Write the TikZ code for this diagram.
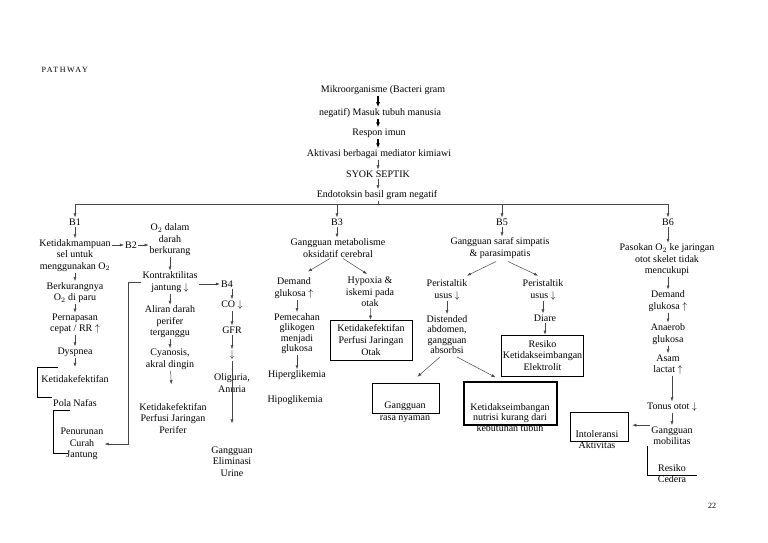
\documentclass[tikz,border=0pt]{standalone}
\usepackage{fontspec}
\setmainfont{Liberation Serif}
\usetikzlibrary{calc, arrows.meta}

\begin{document}
\begin{tikzpicture}[
    x=1pt, y=-1pt,
    >={Latex[length=4pt, width=3pt]},
    font=\fontsize{10}{11.5}\selectfont,
]

\definecolor{line_color}{RGB}{70,70,70}

\tikzstyle{txt} = [align=center, inner sep=1pt]
\tikzstyle{tight} = [font=\fontsize{10}{10.5}\selectfont]
\tikzstyle{sqr} = [rectangle, draw=black, line width=.6pt]
\tikzstyle{arr} = [->, line width=.5pt, draw=line_color]
\tikzstyle{thick_arr} = [-{Latex[length=5pt, width=4pt]}, line width=1.2pt, draw=black]
\tikzstyle{brk} = [line width=.9pt, draw=black]

\useasboundingbox (0,0) rectangle (768,543);

\node (pathway) [anchor=west, font=\fontsize{8}{9}\selectfont\addfontfeature{LetterSpace=20}] at (38,70) {PATHWAY};

% alur utama
\node (mikro) [txt] at (383,90) {Mikroorganisme (Bacteri gram};
\node (negatif) [txt] at (380,113) {negatif) Masuk tubuh manusia};
\node (respon) [txt] at (379,133) {Respon imun};
\node (aktivasi) [txt] at (379,154) {Aktivasi berbagai mediator kimiawi};
\node (syok) [txt] at (378,174) {SYOK SEPTIK};
\node (endo) [txt] at (377,195) {Endotoksin basil gram negatif};

\draw[thick_arr] (mikro.south -| syok) -- (negatif.north -| syok);
\draw[thick_arr] (negatif.south -| syok) -- (respon.north -| syok);
\draw[thick_arr] (respon.south -| syok) -- (aktivasi.north -| syok);
\draw[arr] (aktivasi.south -| syok) -- (syok.north);
\draw[arr] (syok.south) -- (syok.south |- endo.north);

\node (b1) [txt] at (75,222) {B1};
\node (b3) [txt] at (337,222) {B3};
\node (b5) [txt] at (502,222) {B5};
\node (b6) [txt] at (668,222) {B6};

\coordinate (bus) at (378,204);
\draw[line width=.5pt, line_color] (endo.south -| bus) -- (bus);
\draw[line width=.5pt, line_color] (b1 |- bus) -- (b6 |- bus);
\draw[arr] (b1 |- bus) -- (b1);
\draw[arr] (b3 |- bus) -- (b3);
\draw[arr] (b5 |- bus) -- (b5);
\draw[arr] (b6 |- bus) -- (b6);

% B1
\node (mampu) [txt] at (75,255.5) {Ketidakmampuan\\sel untuk\\menggunakan O$_2$};
\node (berkurang) [txt] at (75,292.5) {Berkurangnya\\O$_2$ di paru};
\node (napas) [txt] at (75,324) {Pernapasan\\cepat / RR $\uparrow$};
\node (dyspnea) [txt] at (75,352) {Dyspnea};
\node (ketpola) [txt, minimum height=24] at (75,379) {Ketidakefektifan};
\node (pola) [txt] at (75,403) {Pola Nafas};
\node (curah) [txt] at (82,444) {Penurunan\\Curah\\Jantung};

\draw[arr] (b1) -- (mampu);
\draw[arr] (mampu) -- (berkurang);
\draw[arr] (berkurang) -- (napas);
\draw[arr] (napas) -- (dyspnea);
\draw[arr] (dyspnea) -- (ketpola);
\draw[brk] (58,367) -- (37,367) -- (37,397) -- (52,397);
\draw[brk] (70,410) -- (53,410) -- (53,453) -- (68,453);

% B2
\node (b2) [txt] at (131,245) {B2};
\node (o2) [txt] at (170,240) {O$_2$ dalam\\darah\\berkurang};
\node (kontrak) [txt] at (170,282) {Kontraktilitas\\jantung $\downarrow$};
\node (aliran) [txt] at (170,322) {Aliran darah\\perifer\\terganggu};
\node (cyanosis) [txt] at (170,359.5) {Cyanosis,\\akral dingin};
\node (perifer) [txt] at (173,418.5) {Ketidakefektifan\\Perfusi Jaringan\\Perifer};

\draw[arr] (b2 -| mampu.east) -- (b2);
\draw[arr] (b2) -- (b2 -| o2.west);
\draw[arr] (o2) -- (kontrak);
\draw[arr] (kontrak) -- (aliran);
\draw[arr] (aliran) -- (cyanosis);
\draw[arr, shorten >=18pt] (cyanosis) -- (perifer);
\coordinate (kbend) at (128,282);
\draw[arr] (kontrak.west) -- (kbend) -- (kbend |- curah) -- (curah.east);

% B4
\node (b4) [txt] at (227,284) {B4};
\node (co) [txt] at (232,305) {CO $\downarrow$};
\node (gfr) [txt] at (232,330) {GFR};
\node (gfrturun) [txt] at (232,355) {$\downarrow$};
\node (oliguria) [txt] at (232,383) {Oliguria,\\Anuria};
\node (eliminasi) [txt] at (232,461.5) {Gangguan\\Eliminasi\\Urine};

\draw[arr] (kontrak.east |- b4) -- (b4);
\draw[arr] (b4.south -| co) -- (co);
\draw[arr] (co) -- (gfr);
\draw[arr] (gfr) -- (gfrturun);
\draw[arr, shorten >=22pt] (gfrturun) -- (eliminasi);

% B3
\node (metab) [txt] at (338,248) {Gangguan metabolisme\\oksidatif cerebral};
\node (demand3) [txt] at (294,288) {Demand\\glukosa $\uparrow$};
\node (hypoxia) [txt] at (370,292) {Hypoxia \&\\iskemi pada\\otak};
\node (pemecahan) [txt, tight] at (297,333.5) {Pemecahan\\glikogen\\menjadi\\glukosa};
\node (hiper) [txt] at (297,375) {Hiperglikemia};
\node (hipo) [txt] at (295,400) {Hipoglikemia};
\node (otak) [txt, sqr, font=\fontsize{10}{12}\selectfont, minimum width=82, minimum height=40] at (371,340) {Ketidakefektifan\\Perfusi Jaringan\\Otak};

\draw[arr] (b3) -- (b3 |- metab.north);
\draw[arr] ($(metab.south)+(-8,0)$) -- ($(demand3.north)+(14,-5)$);
\draw[arr] ($(metab.south)+(5,0)$) -- ($(hypoxia.north)+(-3,-2)$);
\draw[arr] (demand3.south -| pemecahan) -- (pemecahan);
\draw[arr] (pemecahan) -- (hiper);
\draw[arr] (hypoxia) -- (otak);

% B5
\node (saraf) [txt] at (500,248) {Gangguan saraf simpatis\\\& parasimpatis};
\node (peri1) [txt] at (447,290) {Peristaltik\\usus $\downarrow$};
\node (peri2) [txt] at (543,290) {Peristaltik\\usus $\downarrow$};
\node (distended) [txt, tight] at (447,334.5) {Distended\\abdomen,\\gangguan\\absorbsi};
\node (diare) [txt] at (545,318) {Diare};
\node (elektrolit) [txt, sqr, minimum width=77, minimum height=41] at (542.5,355.5) {Resiko\\Ketidakseimbangan\\Elektrolit};
\node (nyamanbox) [sqr, minimum width=67, minimum height=30] at (405.5,398) {};
\node (nyaman) [txt] at (405,412.5) {Gangguan\\rasa nyaman};
\node (nutrisibox) [sqr, line width=1.3pt, minimum width=93, minimum height=43] at (510.5,403.5) {};
\node (nutrisi) [txt, tight] at (510,417.5) {Ketidakseimbangan\\nutrisi kurang dari\\kebutuhan tubuh};

\draw[arr] (b5) -- (b5 |- saraf.north);
\draw[arr] ($(saraf.south)+(-4,2)$) -- ($(peri1.north)+(20,-3)$);
\draw[arr] ($(saraf.south)+(8,2)$) -- ($(peri2.north)+(-5,-3)$);
\draw[arr] (peri1) -- (distended);
\draw[arr] (peri2.south) -- (peri2.south |- diare.north);
\draw[arr] (diare.south) -- (diare.south |- elektrolit.north);
\draw[arr] ($(distended.south)+(-7,2)$) -- ($(nyamanbox.north)+(12,-6)$);
\draw[arr] ($(distended.south)+(10,2)$) -- ($(nutrisibox.north)+(-15,-4)$);

% B6
\node (pasokan) [txt] at (667,260) {Pasokan O$_2$ ke jaringan\\otot skelet tidak\\mencukupi};
\node (demand6) [txt] at (668,301) {Demand\\glukosa $\uparrow$};
\node (anaerob) [txt] at (668,334) {Anaerob\\glukosa};
\node (asam) [txt] at (668,364.5) {Asam\\lactat $\uparrow$};
\node (tonus) [txt] at (672,407) {Tonus otot $\downarrow$};
\node (mobilitas) [txt] at (672,435.5) {Gangguan\\mobilitas};
\node (intolbox) [sqr, minimum width=58, minimum height=29] at (599,426.5) {};
\node (intol) [txt] at (597,439.5) {Intoleransi\\Aktivitas};
\node (cedera) [txt] at (672,473.5) {Resiko\\Cedera};

\draw[arr] (b6) -- (b6 |- pasokan.north);
\draw[arr] (pasokan.south -| demand6) -- (demand6);
\draw[arr] (demand6) -- (anaerob);
\draw[arr] (anaerob) -- (asam);
\draw[arr] (asam.south -| tonus) -- (tonus);
\draw[arr] (tonus) -- (mobilitas);
\draw[arr, shorten >=4pt] (mobilitas.north west) -- (mobilitas.north west -| intolbox.east);
\draw[brk] (647,446) -- (647,475) -- (697,475);

\node (hal) [txt, font=\fontsize{8}{9}\selectfont] at (712,506) {22};

\end{tikzpicture}
\end{document}
